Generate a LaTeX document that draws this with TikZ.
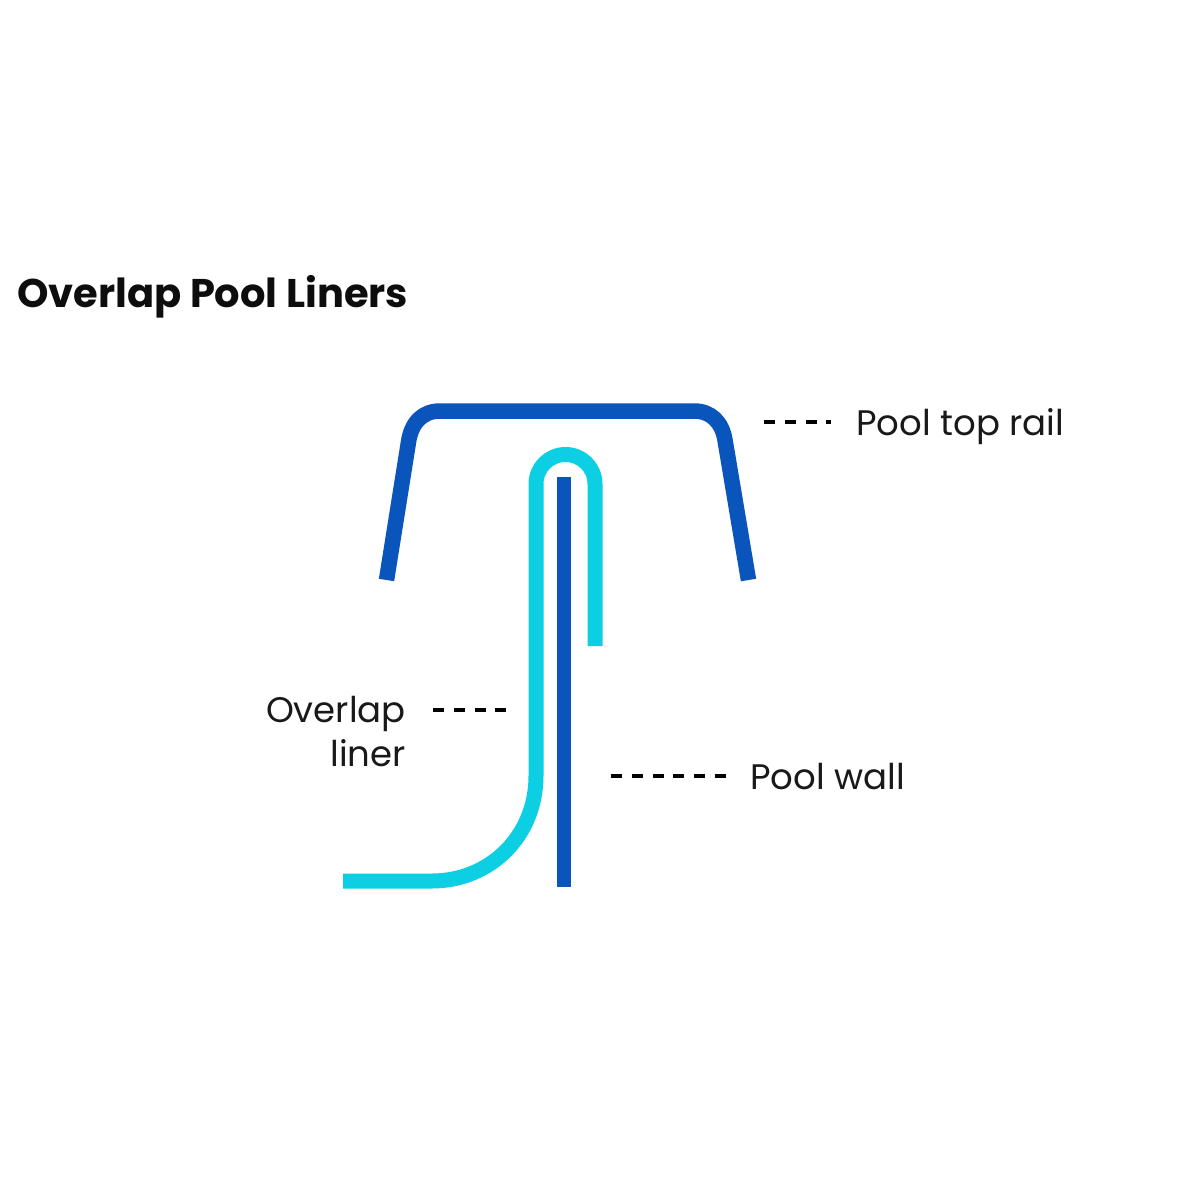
\documentclass[tikz,border=0pt]{standalone}
\usepackage{fontspec}
\setmainfont{Poppins}
\definecolor{railblue}{HTML}{0A55BC}
\definecolor{linercyan}{HTML}{0DCFE4}
\tikzset{
  railline/.style={draw=railblue,line width=15.5pt,line join=round},
  wallline/.style={draw=railblue,line width=14.5pt},
  linerline/.style={draw=linercyan,line width=15pt},
  leader/.style={draw=black,line width=4.5pt,dash pattern=on 11pt off 9.8pt},
  lab/.style={font=\fontsize{35.5}{44}\selectfont,inner sep=0pt,text=black!90},
}
\begin{document}
\begin{tikzpicture}[x=1pt,y=-1pt]
\useasboundingbox (0,0) rectangle (1200,1200);
\fill[white] (0,0) rectangle (1200,1200);
\node[anchor=west,inner sep=0pt,font=\fontsize{40}{48}\selectfont\bfseries,text=black!95] (title) at (17,297) {Overlap Pool Liners};
\draw[railline] (386.5,580) -- (408.5,442) .. controls (411.5,422) and (423,411) .. (440,411) -- (694,411) .. controls (711,411) and (722,422) .. (725,440) -- (748.5,580);
\draw[linerline] (343,881) -- (432,881) .. controls (490,881) and (536,836) .. (536,776) -- (536,484) .. controls (536,467.7) and (549,454.5) .. (565.5,454.5) .. controls (582,454.5) and (595,467.7) .. (595,484) -- (595,646);
\draw[wallline] (564,476.5) -- (564,887);
\node[lab,anchor=west] (rail) at (856,427) {Pool top rail};
\node[lab,anchor=west] (wall) at (750,777) {Pool wall};
\node[lab,anchor=east,align=right] (ov) at (406,732) {Overlap\\liner};
\coordinate (a1) at (831,422);\coordinate (a2) at (764,422);
\coordinate (b1) at (506,710);\coordinate (b2) at (433,710);
\coordinate (c1) at (726,776);\coordinate (c2) at (611,776);
\draw[leader] (a2) -- (a1);
\draw[leader] (b2) -- (b1);
\draw[leader] (c2) -- (c1);
\end{tikzpicture}
\end{document}
